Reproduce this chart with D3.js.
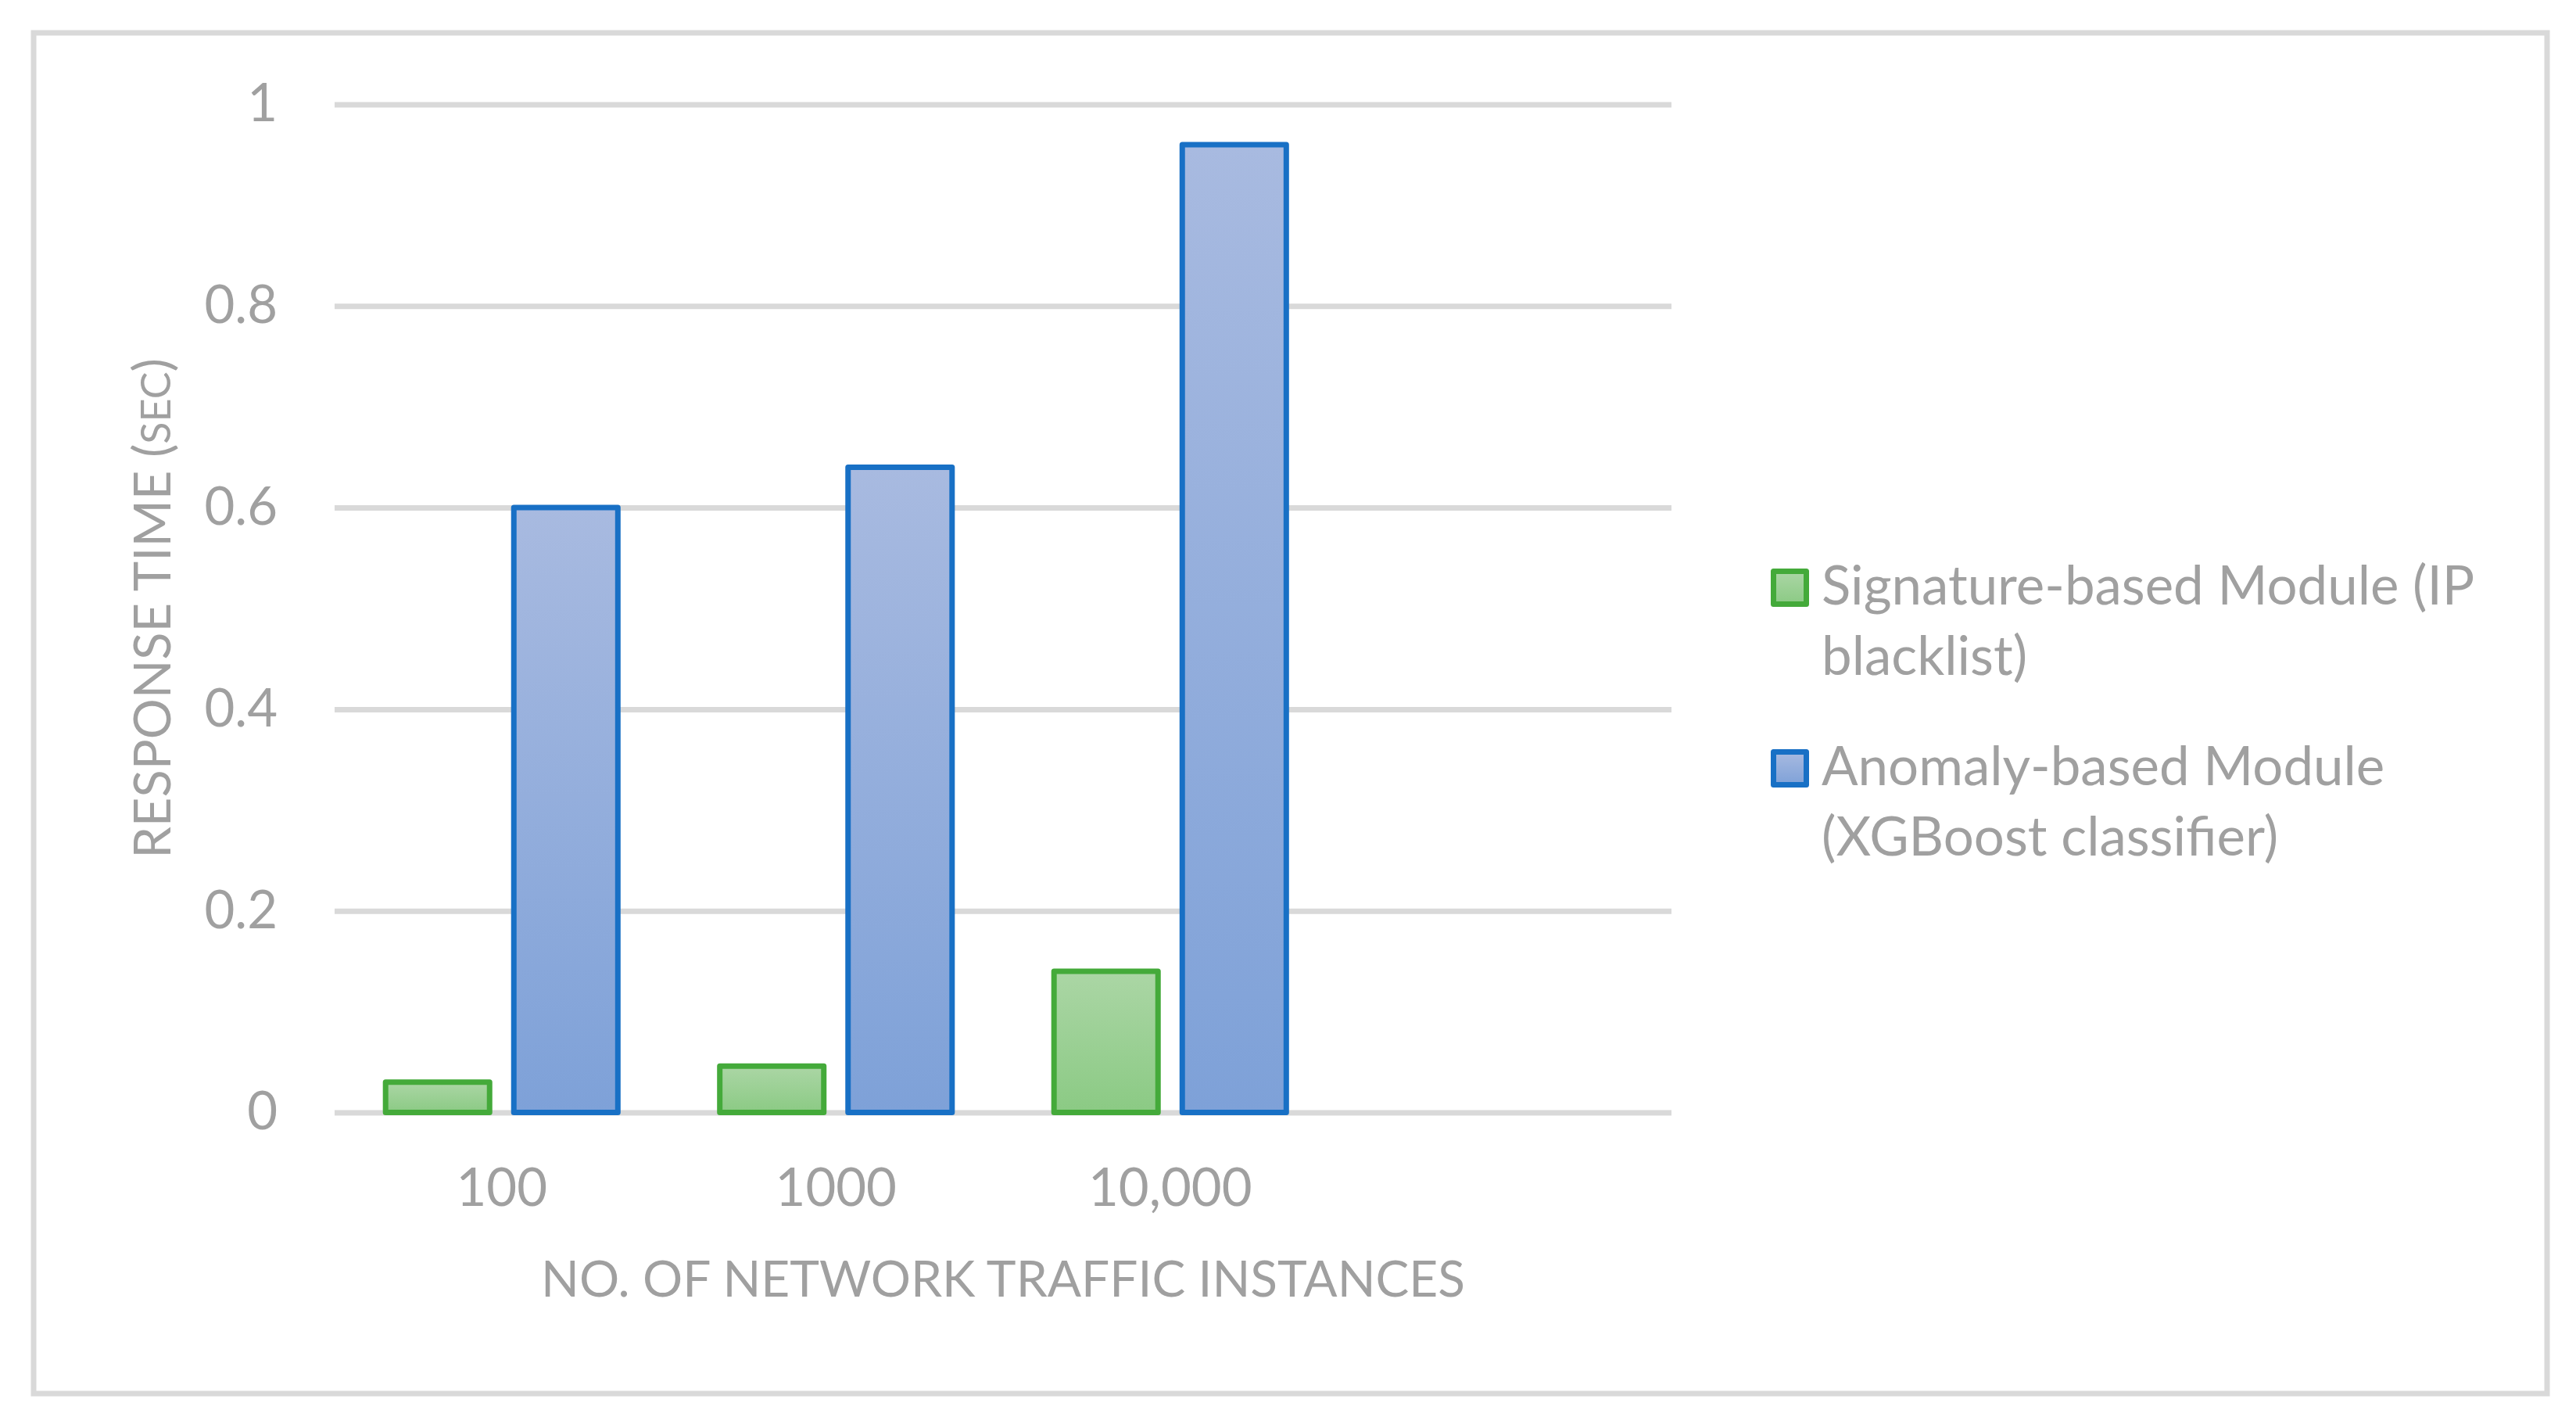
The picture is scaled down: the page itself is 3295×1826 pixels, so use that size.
<!DOCTYPE html>
<html><head><meta charset="utf-8">
<script src="https://cdn.jsdelivr.net/npm/d3@7/dist/d3.min.js"></script>
<style>
body{margin:0;background:#fff}
svg{display:block}
text{font-family:Lato,'Open Sans',sans-serif;fill:#a0a0a0}
</style>
</head><body>
<svg id="chart" width="3295" height="1826"></svg>
<script>
// ---- data ----
const categories = ["100", "1000", "10,000", " "];
const signatureValues = [0.03, 0.046, 0.14, null];
const anomalyValues = [0.6, 0.64, 0.96, null];
const seriesKeys = ["signature", "anomaly"];
const legendLines = [
  ["Signature-based Module (IP", "blacklist)"],
  ["Anomaly-based Module", "(XGBoost classifier)"]
];
const yTicks = [0, 0.2, 0.4, 0.6, 0.8, 1];
const yTickLabels = ["0", "0.2", "0.4", "0.6", "0.8", "1"];
const xTitle = "NO. OF NETWORK TRAFFIC INSTANCES";
const yTitleMain = "RESPONSE TIME (";
const yTitleSmall = "SEC";
const yTitleEnd = ")";

// ---- styles ----
const colors = {
  signature: {stroke: "#44aa3a", top: "#abd6a5", bottom: "#8bca84"},
  anomaly: {stroke: "#1870c5", top: "#a8bae0", bottom: "#7ea1d8"}
};
const grid = "#d9d9d9";
const fs = 67;

const svg = d3.select("#chart");
svg.append("rect").attr("width", 3295).attr("height", 1826).attr("fill", "#fff");
// outer chart border
svg.append("rect").attr("x", 43).attr("y", 42).attr("width", 3215).attr("height", 1740)
  .attr("fill", "none").attr("stroke", grid).attr("stroke-width", 7);

const defs = svg.append("defs");
seriesKeys.forEach(k => {
  const g = defs.append("linearGradient").attr("id", "grad-" + k)
    .attr("x1", 0).attr("y1", 0).attr("x2", 0).attr("y2", 1);
  g.append("stop").attr("offset", "0%").attr("stop-color", colors[k].top);
  g.append("stop").attr("offset", "100%").attr("stop-color", colors[k].bottom);
});

const plot = {left: 428, right: 2138, top: 133.5, bottom: 1422.5};
const x0 = d3.scaleBand().domain(categories).range([plot.left, plot.right]).padding(0);
const groupW = x0.bandwidth() * 0.695;
const x1 = d3.scaleBand().domain(seriesKeys)
  .range([(x0.bandwidth() - groupW) / 2, (x0.bandwidth() + groupW) / 2])
  .paddingInner(0.189).paddingOuter(0);
const y = d3.scaleLinear().domain([0, 1]).range([plot.bottom, plot.top]);

// y axis with gridlines
const yAxis = d3.axisLeft(y).tickValues(yTicks)
  .tickFormat((d, i) => yTickLabels[i])
  .tickSize(-(plot.right - plot.left)).tickPadding(73);
const yg = svg.append("g").attr("transform", `translate(${plot.left},0)`).call(yAxis);
yg.select(".domain").remove();
yg.selectAll(".tick line").attr("stroke", grid).attr("stroke-width", 7);
yg.selectAll(".tick text").attr("font-size", fs).attr("fill", "#a0a0a0")
  .style("font-family", "Lato,'Open Sans',sans-serif");

// x axis labels
const xAxis = d3.axisBottom(x0).tickSize(0).tickPadding(72);
const xg = svg.append("g").attr("transform", `translate(0,${plot.bottom})`).call(xAxis);
xg.select(".domain").remove();
xg.selectAll(".tick text").attr("font-size", fs).attr("fill", "#a0a0a0")
  .style("font-family", "Lato,'Open Sans',sans-serif");

// bars
const rows = categories.map((c, i) => ({cat: c, signature: signatureValues[i], anomaly: anomalyValues[i]}));
const groups = svg.append("g").selectAll("g").data(rows).join("g")
  .attr("transform", d => `translate(${x0(d.cat)},0)`);
groups.selectAll("rect")
  .data(d => seriesKeys.filter(k => d[k] != null).map(k => ({key: k, value: d[k]})))
  .join("rect")
  .attr("x", d => x1(d.key))
  .attr("width", x1.bandwidth())
  .attr("y", d => y(d.value))
  .attr("height", d => y(0) - y(d.value))
  .attr("fill", d => `url(#grad-${d.key})`)
  .attr("stroke", d => colors[d.key].stroke)
  .attr("stroke-width", 7)
  .attr("stroke-linejoin", "round");

// axis titles
svg.append("text").attr("x", (plot.left + plot.right) / 2).attr("y", 1658)
  .attr("text-anchor", "middle").attr("font-size", 64).text(xTitle);

const yt = svg.append("text")
  .attr("transform", `translate(218,${(plot.top + plot.bottom) / 2}) rotate(-90)`)
  .attr("text-anchor", "middle").attr("font-size", 65);
yt.append("tspan").text(yTitleMain);
yt.append("tspan").attr("font-size", 65 * 0.8).text(yTitleSmall);
yt.append("tspan").text(yTitleEnd);

// legend
const legend = svg.append("g");
seriesKeys.forEach((k, i) => {
  const oy = 730.5 + i * 231;
  legend.append("rect").attr("x", 2268.5).attr("y", oy).attr("width", 42).attr("height", 42)
    .attr("fill", `url(#grad-${k})`).attr("stroke", colors[k].stroke).attr("stroke-width", 7)
    .attr("stroke-linejoin", "round");
  legendLines[i].forEach((ln, j) => {
    legend.append("text").attr("x", 2330).attr("y", 773 + i * 231 + j * 90)
      .attr("font-size", 69).text(ln);
  });
});
</script>
</body></html>
